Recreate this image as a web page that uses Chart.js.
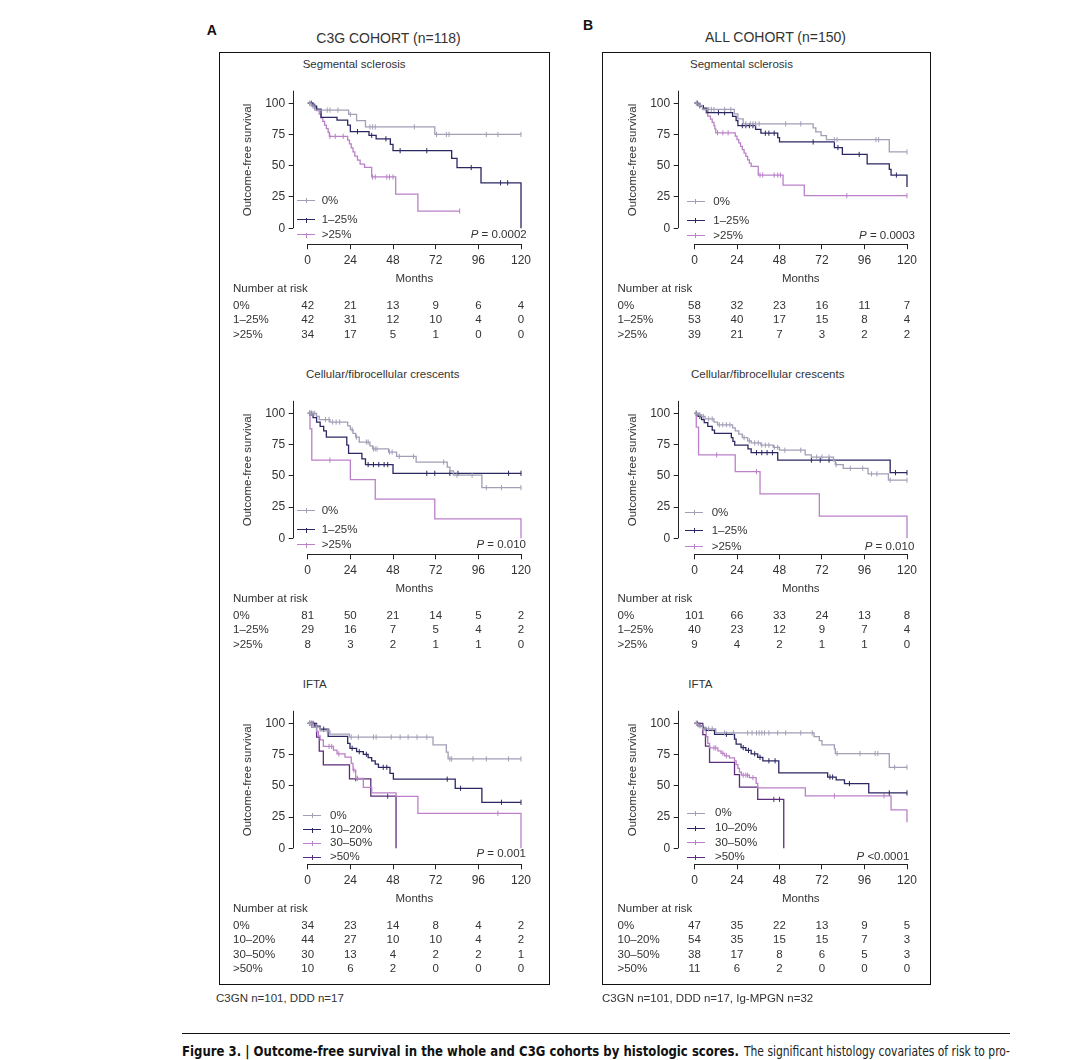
<!DOCTYPE html>
<html>
<head>
<meta charset="utf-8">
<script src="https://cdn.jsdelivr.net/npm/chart.js@4.4.1/dist/chart.umd.min.js"></script>
<style>
  body { margin: 0; background: #fff; }
  #page { position: relative; width: 1080px; height: 1060px; overflow: hidden;
          font-family: "Liberation Sans", Arial, sans-serif; color: #333; }
  .t { position: absolute; white-space: nowrap; font-size: 11px; line-height: 1; }
  canvas { position: absolute; }
  .box { position: absolute; border: 1.7px solid #111; box-sizing: border-box; }
  .ln { position: absolute; height: 0; }
</style>
</head>
<body>
<div id="page"></div>
<script>
const X_TICKS = [0, 24, 48, 72, 96, 120];
const Y_TICKS = [0, 25, 50, 75, 100];
const ssGroups = ['0%', '1–25%', '>25%'];
const ifGroups = ['0%', '10–20%', '30–50%', '>50%'];

// C3G cohort - segmental sclerosis (time in months, survival %, censor times)
const ssA0_t = [0, 2, 4, 23, 27.5, 32.5, 71.5, 120];
const ssA0_s = [100, 97.6, 94.5, 91, 86, 81, 75, 75];
const ssA0_c = [1, 3, 11, 12.5, 17, 24, 35, 36.5, 38, 60, 72.5, 78, 79.5, 100.5, 107, 120];
const ssA1_t = [0, 3, 5, 7.5, 16.5, 22.5, 24, 34.5, 38.5, 46.5, 48, 81, 84, 97.5, 120];
const ssA1_s = [100, 97.6, 95.2, 88.7, 86.5, 82.5, 77.3, 74.2, 71.5, 67, 62, 55.8, 48.5, 36.3, 0];
const ssA1_c = [2, 4, 28, 36, 44, 52, 67, 92, 108.5, 112.5];
const ssA2_t = [0, 3, 5, 6.5, 7.5, 8.5, 9.5, 10.5, 11.5, 12.2, 22.5, 23.5, 24.5, 25.5, 26.5, 28, 29.5, 32, 36, 49.5, 62, 85.5];
const ssA2_s = [100, 97, 94, 91.2, 88.3, 85.4, 82.5, 79.6, 76.6, 73.5, 70.4, 67.4, 64.2, 61, 57.7, 54.5, 51.3, 48.7, 41, 27.3, 13.7, 13.7];
const ssA2_c = [12.5, 15.5, 20, 36.5, 38, 44.5, 46, 48, 85.5];
const ssA_risk = [[42, 21, 13, 9, 6, 4], [42, 31, 12, 10, 4, 0], [34, 17, 5, 1, 0, 0]];

// all cohort - segmental sclerosis
const ssB0_t = [0, 2, 4.5, 22.5, 24.5, 27.5, 67, 68.5, 71.5, 74.5, 110, 120];
const ssB0_s = [100, 98.3, 95, 91.5, 87.5, 83.5, 80.3, 77, 74, 70.8, 61, 61];
const ssB0_c = [1, 3, 8, 9.5, 11, 17, 20.5, 29, 31.5, 33, 34.5, 36.5, 51.5, 60, 79, 80.5, 102.5, 104, 120];
const ssB1_t = [0, 2, 5, 7, 21.5, 23.5, 24.5, 34.5, 37.5, 47, 48, 79, 83.5, 97.5, 110, 111, 120];
const ssB1_s = [100, 98, 96, 92.5, 89.5, 86, 82, 79, 76, 72.5, 69, 64.5, 59, 51.5, 47, 42.5, 33];
const ssB1_c = [1.5, 3, 13.5, 17, 27, 29, 31, 33, 40, 42, 45, 67, 81, 93, 114];
const ssB2_t = [0, 3, 5, 6.5, 7.5, 9, 10, 11, 11.5, 12, 23, 24, 25, 26, 27, 28, 29, 30, 31, 32, 36, 50, 62, 120];
const ssB2_s = [100, 97.4, 94.9, 92.3, 89.7, 87.2, 84.6, 82, 79.5, 76.3, 73.6, 70.9, 68.2, 65.5, 62.8, 60.1, 57.4, 54.7, 52, 49.5, 42.5, 34.5, 26, 26];
const ssB2_c = [13, 16, 19, 37, 38.5, 45, 47, 48.5, 86, 120];
const ssB_risk = [[58, 32, 23, 16, 11, 7], [53, 40, 17, 15, 8, 4], [39, 21, 7, 3, 2, 2]];

// C3G cohort - cellular/fibrocellular crescents
const crA0_t = [0, 5, 6.5, 12.5, 22.5, 24, 25.5, 27, 29, 35, 36.5, 45.5, 50, 61, 78.5, 80, 82, 98, 120];
const crA0_s = [100, 97.5, 95, 93, 90, 87, 84, 81, 77, 74, 71.5, 69, 65.5, 61, 57, 54, 50.5, 40.5, 40.5];
const crA0_c = [1, 2, 3, 4, 10, 12, 14, 16, 18, 25, 27.5, 33, 34, 37, 38, 39, 46, 47.5, 51.5, 59.5, 76.5, 84, 92.5, 100.5, 109, 120];
const crA1_t = [0, 3, 5, 7, 9, 10.5, 22, 23, 30.5, 32.5, 48, 120];
const crA1_s = [100, 96.5, 93, 89.5, 86, 81, 74.5, 68, 63.5, 59, 52, 52];
const crA1_c = [1, 2, 34, 37, 40, 43, 45, 67, 71.5, 80, 84.5, 113, 120];
const crA2_t = [0, 1.3, 2.3, 24, 38, 71.5, 120];
const crA2_s = [100, 87.5, 62.5, 46.9, 31.3, 15.6, 0];
const crA2_c = [12.5];
const crA_risk = [[81, 50, 21, 14, 5, 2], [29, 16, 7, 5, 4, 2], [8, 3, 2, 1, 1, 0]];

// all cohort - cellular/fibrocellular crescents
const crB0_t = [0, 2, 4, 6, 11, 13, 21.5, 23, 25, 27, 30, 32, 37.5, 44.5, 48, 62.5, 66, 78.5, 79.5, 84, 98, 109.5, 120];
const crB0_s = [100, 99, 97.5, 95.5, 93, 90.8, 88.3, 86, 83.3, 80.5, 78, 76.3, 74.5, 72.7, 70.5, 66.8, 65, 62, 59, 56, 51.5, 46.5, 46.5];
const crB0_c = [1, 3, 5, 8, 10, 14, 16, 18, 20, 28, 31, 34, 36, 38, 40, 42, 45, 47, 51, 60, 69, 72, 76, 80, 88, 95, 100, 103, 110.5, 120];
const crB1_t = [0, 2, 4, 5.5, 7.5, 10, 11.3, 20.8, 21.7, 22.7, 30.2, 32, 47, 110.5, 120];
const crB1_s = [100, 97.5, 95, 92.5, 89.5, 86.5, 84, 80.5, 77.5, 74.5, 71.5, 68.5, 62.5, 52.5, 52.5];
const crB1_c = [1, 3, 35, 38, 41, 44, 66, 71, 76, 113.5, 120];
const crB2_t = [0, 1, 2.3, 23, 37, 70.5, 120];
const crB2_s = [100, 88.9, 66.7, 53.3, 35.6, 17.8, 0];
const crB2_c = [12.5, 35];
const crB_risk = [[101, 66, 33, 24, 13, 8], [40, 23, 12, 9, 7, 4], [9, 4, 2, 1, 1, 0]];

// C3G cohort - IFTA
const ifA0_t = [0, 3, 7, 12.5, 23.5, 70.5, 78, 79, 120];
const ifA0_s = [100, 97, 94, 91.3, 89, 82.8, 77, 71.5, 71.5];
const ifA0_c = [1, 2, 5, 11, 12, 24.5, 28.5, 37, 38.5, 47, 52, 56.5, 61.5, 67, 80, 81, 93, 100.5, 113, 120];
const ifA1_t = [0, 4, 7, 11.5, 22.5, 23.8, 27.5, 31.3, 34, 36, 38, 39.8, 46.3, 48.2, 83, 98, 120];
const ifA1_s = [100, 97.7, 95.3, 89.6, 84, 80, 77.3, 75.2, 72.5, 70, 67.3, 64.8, 60, 55.3, 48, 36.8, 36.8];
const ifA1_c = [1, 2, 9, 25, 29, 33, 42.5, 44.5, 78.5, 86, 109, 120];
const ifA2_t = [0, 2.2, 5, 6, 7, 8.8, 14.5, 16.5, 21, 24.5, 25.5, 27, 31.3, 36, 49.7, 62, 120];
const ifA2_s = [100, 96.7, 93.3, 90, 86.7, 81.5, 78.5, 75.5, 73, 68, 62.5, 56, 48.8, 44.3, 41.6, 28, 0];
const ifA2_c = [12, 13.5, 17.5, 26, 28, 107];
const ifA3_t = [0, 5, 6.5, 8.8, 23.5, 35.5, 49.7];
const ifA3_s = [100, 88.9, 77.8, 66.7, 55.6, 41.7, 0];
const ifA3_c = [3, 27, 45];
const ifA_risk = [[34, 23, 14, 8, 4, 2], [44, 27, 10, 10, 4, 2], [30, 13, 4, 2, 2, 1], [10, 6, 2, 0, 0, 0]];

// all cohort - IFTA
const ifB0_t = [0, 2, 4.5, 12, 67.5, 70.5, 72, 79, 79.5, 110, 120];
const ifB0_s = [100, 97.9, 95.6, 92.3, 89.3, 86.2, 82.8, 79.5, 75.8, 64.8, 64.8];
const ifB0_c = [1, 3, 6, 8, 10, 17, 22, 30, 32.5, 35, 36.5, 38, 39.5, 42, 47, 51.5, 60, 66.5, 80.5, 93.5, 102, 103.5, 113, 120];
const ifB1_t = [0, 3, 4.7, 6.6, 11.3, 22.6, 23.5, 26.3, 29, 32, 35.7, 38.6, 47.6, 75.2, 80, 84.7, 98.4, 120];
const ifB1_s = [100, 98, 96.2, 94.3, 91.2, 87.3, 83.4, 80.5, 78.3, 75.6, 72.8, 70, 60.3, 57, 54.8, 51.8, 44.3, 44.3];
const ifB1_c = [1.5, 18, 27.5, 30.5, 34, 37, 42, 45.5, 76.5, 78, 87.5, 110, 120];
const ifB2_t = [0, 2, 4.7, 6.6, 7.5, 8.5, 13.2, 15, 17, 19.7, 22.6, 23.5, 24.5, 25.4, 26.5, 31, 34.8, 35.7, 62.6, 111, 120];
const ifB2_s = [100, 97.4, 94.7, 89.3, 84, 80.3, 78, 76, 74, 72.3, 70, 67, 64, 61, 58.5, 56.5, 52, 48.3, 41.9, 30.7, 20.8];
const ifB2_c = [11, 12, 16, 18, 27.5, 29, 30, 33, 79, 107];
const ifB3_t = [0, 4.7, 6.2, 8.5, 22.6, 25.4, 35.7, 50.4];
const ifB3_s = [100, 90.9, 81.8, 68.8, 58.9, 49, 39.1, 0];
const ifB3_c = [44.8, 48];
const ifB_risk = [[47, 35, 22, 13, 9, 5], [54, 35, 15, 15, 7, 3], [38, 17, 8, 6, 5, 3], [11, 6, 2, 0, 0, 0]];

const COLORS = ['#a29eb6', '#2a2762', '#bb80c8', '#5b2d7a'];

// layout of each panel (pixels)
const colA = { x0: 307.7, span: 213.3, xmin: -8.44, riskX: 233 };
const colB = { x0: 694.5, span: 212.5, xmin: -9.49, riskX: 617.5 };
const rowY = [228.2, 538.3, 848.3];

const panels = [
  { col: colA, y0: rowY[0], title: 'Segmental sclerosis', tx: 302.7, groups: ssGroups,
    curves: [[ssA0_t, ssA0_s, ssA0_c], [ssA1_t, ssA1_s, ssA1_c], [ssA2_t, ssA2_s, ssA2_c]],
    risk: ssA_risk, p: '= 0.0002', px: 526.7, py: 6.8, lx: 297.3, ltx: 321.7, ly: [-27.5, -8.2, 6.8] },
  { col: colB, y0: rowY[0], title: 'Segmental sclerosis', tx: 690, groups: ssGroups,
    curves: [[ssB0_t, ssB0_s, ssB0_c], [ssB1_t, ssB1_s, ssB1_c], [ssB2_t, ssB2_s, ssB2_c]],
    risk: ssB_risk, p: '= 0.0003', px: 915, py: 7.7, lx: 686.7, ltx: 713.3, ly: [-26.6, -7.6, 7.7] },
  { col: colA, y0: rowY[1], title: 'Cellular/fibrocellular crescents', tx: 306, groups: ssGroups,
    curves: [[crA0_t, crA0_s, crA0_c], [crA1_t, crA1_s, crA1_c], [crA2_t, crA2_s, crA2_c]],
    risk: crA_risk, p: '= 0.010', px: 526, py: 6.7, lx: 297.3, ltx: 321.7, ly: [-27.6, -8.3, 6.7] },
  { col: colB, y0: rowY[1], title: 'Cellular/fibrocellular crescents', tx: 691, groups: ssGroups,
    curves: [[crB0_t, crB0_s, crB0_c], [crB1_t, crB1_s, crB1_c], [crB2_t, crB2_s, crB2_c]],
    risk: crB_risk, p: '= 0.010', px: 914.3, py: 8.4, lx: 685, ltx: 711.7, ly: [-25.6, -7.6, 8.4] },
  { col: colA, y0: rowY[2], title: 'IFTA', tx: 302.7, groups: ifGroups,
    curves: [[ifA0_t, ifA0_s, ifA0_c], [ifA1_t, ifA1_s, ifA1_c], [ifA2_t, ifA2_s, ifA2_c], [ifA3_t, ifA3_s, ifA3_c]],
    risk: ifA_risk, p: '= 0.001', px: 526, py: 6, lx: 303.3, ltx: 330, ly: [-32.6, -18.3, -5, 9] },
  { col: colB, y0: rowY[2], title: 'IFTA', tx: 688.3, groups: ifGroups,
    curves: [[ifB0_t, ifB0_s, ifB0_c], [ifB1_t, ifB1_s, ifB1_c], [ifB2_t, ifB2_s, ifB2_c], [ifB3_t, ifB3_s, ifB3_c]],
    risk: ifB_risk, p: '<0.0001', px: 909.3, py: 8.4, lx: 686.7, ltx: 715, ly: [-35, -20, -5.6, 9] }
];

const page = document.getElementById('page');

function txt(s, x, y, o = {}) {
  const d = document.createElement('div');
  d.className = 't';
  if (o.html) d.innerHTML = s; else d.textContent = s;
  d.style.left = x + 'px';
  d.style.top = y + 'px';
  if (o.size) d.style.fontSize = o.size + 'px';
  if (o.weight) d.style.fontWeight = o.weight;
  if (o.color) d.style.color = o.color;
  if (o.font) d.style.fontFamily = o.font;
  const tx = o.align === 'center' ? '-50%' : o.align === 'right' ? '-100%' : '0';
  d.style.transform = `translate(${tx}, -50%)` + (o.rot ? ' rotate(-90deg)' : '');
  page.appendChild(d);
  return d;
}

function hline(x, y, w, color, width) {
  const d = document.createElement('div');
  d.className = 'ln';
  d.style.cssText += `left:${x}px;top:${y - width / 2}px;width:${w}px;border-top:${width}px solid ${color};`;
  page.appendChild(d);
}

function vline(x, y, h, color) {
  const d = document.createElement('div');
  d.style.cssText = `position:absolute;left:${x - 0.5}px;top:${y - h / 2}px;height:${h}px;border-left:1px solid ${color};`;
  page.appendChild(d);
}

function survAt(ts, ss, c) {
  let v = ss[0];
  for (let i = 0; i < ts.length; i++) if (ts[i] <= c) v = ss[i];
  return v;
}

// axis lines only cover 0-120 months and 0-110 %
const axisLines = {
  id: 'axisLines',
  afterDraw(chart) {
    const { ctx, chartArea, scales: { x, y } } = chart;
    ctx.save();
    ctx.strokeStyle = '#222';
    ctx.lineWidth = 1;
    ctx.beginPath();
    const by = Math.round(chartArea.bottom) + 0.5;
    const lx = Math.round(chartArea.left) + 0.5;
    ctx.moveTo(x.getPixelForValue(0), by);
    ctx.lineTo(x.getPixelForValue(120), by);
    ctx.moveTo(lx, y.getPixelForValue(0));
    ctx.lineTo(lx, y.getPixelForValue(110));
    ctx.stroke();
    ctx.restore();
  }
};

Chart.defaults.font.family = '"Liberation Sans", Arial, sans-serif';
Chart.defaults.font.size = 11;
Chart.defaults.color = '#333';

function kmChart(p) {
  const ppm = p.col.span / 120;
  const PY = 1.25;
  const YMIN = -12.8, YMAX = 110;
  const aL = p.col.x0 + p.col.xmin * ppm;
  const aR = p.col.x0 + p.col.span;
  const aT = p.y0 - YMAX * PY;
  const aB = p.y0 - YMIN * PY;
  const cL = Math.floor(aL) - 60, cT = Math.floor(aT) - 8;
  const W = Math.ceil(aR - cL) + 16, H = Math.ceil(aB - cT) + 32;

  const cv = document.createElement('canvas');
  cv.width = W; cv.height = H;
  cv.style.left = cL + 'px'; cv.style.top = cT + 'px';
  cv.style.width = W + 'px'; cv.style.height = H + 'px';
  page.appendChild(cv);

  const datasets = [];
  p.curves.forEach(([ts, ss, cs], i) => {
    datasets.push({
      data: ts.map((t, k) => ({ x: t, y: ss[k] })),
      stepped: true, borderColor: COLORS[i], borderWidth: 1.3,
      pointRadius: 0, fill: false, clip: false
    });
    datasets.push({
      data: cs.map(c => ({ x: c, y: survAt(ts, ss, c) })),
      showLine: false, pointStyle: 'line', rotation: 90, pointRadius: 2.6,
      borderColor: COLORS[i], borderWidth: 1, clip: false
    });
  });

  new Chart(cv, {
    type: 'line',
    data: { datasets },
    options: {
      responsive: false, animation: false, events: [],
      devicePixelRatio: 1,
      layout: { padding: { left: aL - 60 - cL, top: aT - cT, right: W - (aR - cL), bottom: H - (aB - cT) - 30 } },
      plugins: { legend: { display: false }, tooltip: { enabled: false } },
      scales: {
        x: {
          type: 'linear', min: p.col.xmin, max: 120,
          afterBuildTicks: s => { s.ticks = X_TICKS.map(v => ({ value: v })); },
          afterFit: s => { s.height = 30; s.paddingLeft = 0; s.paddingRight = 0; },
          ticks: { autoSkip: false, maxRotation: 0, padding: 4, font: { size: 12 } },
          grid: { drawOnChartArea: false, drawTicks: true, tickLength: 5, color: '#222' },
          border: { display: false }
        },
        y: {
          type: 'linear', min: YMIN, max: YMAX,
          afterBuildTicks: s => { s.ticks = Y_TICKS.map(v => ({ value: v })); },
          afterFit: s => { s.width = 60; s.paddingTop = 0; s.paddingBottom = 0; },
          ticks: { padding: 3.5, font: { size: 12 } },
          grid: { drawOnChartArea: false, drawTicks: true, tickLength: 4, color: '#222' },
          border: { display: false }
        }
      }
    },
    plugins: [axisLines]
  });

  // texts around the plot
  const xAt = t => p.col.x0 + t * ppm;
  txt(p.title, p.tx, p.y0 - 163, { size: 11.5 });
  txt('Outcome-free survival', aL - 44.4, p.y0 - 68.5, { align: 'center', rot: true, size: 11.5 });
  txt('Months', xAt(60), p.y0 + 51, { align: 'center', size: 11.5 });
  txt('<i>P</i> ' + p.p, p.px, p.y0 + p.py, { align: 'right', html: true, size: 11.5 });

  p.groups.forEach((g, i) => {
    const y = p.y0 + p.ly[i];
    hline(p.lx, y, 18, COLORS[i], 1.3);
    vline(p.lx + 9, y, 5, COLORS[i]);
    txt(g, p.ltx, y, { size: 11.5 });
  });

  const rowOff = [77.5, 91.8, 106.3, 121];
  txt('Number at risk', p.col.riskX, p.y0 + 61, { size: 11.5 });
  p.risk.forEach((row, i) => {
    const y = p.y0 + rowOff[i];
    txt(p.groups[i], p.col.riskX, y, { size: 11.5 });
    row.forEach((n, k) => txt(String(n), xAt(X_TICKS[k]), y, { align: 'center', size: 11.5 }));
  });
}

// frames and headings
function box(l, t, r, b) {
  const d = document.createElement('div');
  d.className = 'box';
  d.style.left = l + 'px'; d.style.top = t + 'px';
  d.style.width = (r - l) + 'px'; d.style.height = (b - t) + 'px';
  page.appendChild(d);
}
box(218.5, 52, 549.5, 984.5);
box(602, 51.5, 931, 984.5);

txt('A', 211.7, 30, { align: 'center', size: 14, weight: 'bold', color: '#111' });
txt('C3G COHORT (n=118)', 388.5, 38.3, { align: 'center', size: 14 });
txt('B', 588, 25, { align: 'center', size: 14, weight: 'bold', color: '#111' });
txt('ALL COHORT (n=150)', 775.5, 36.7, { align: 'center', size: 14 });

panels.forEach(kmChart);

txt('C3GN n=101, DDD n=17', 216, 999.3, { size: 11.5 });
txt('C3GN n=101, DDD n=17, Ig-MPGN n=32', 602, 999.3, { size: 11.5 });

// caption
hline(182, 1034, 828, '#111', 1.6);
const capFont = '"Liberation Sans Narrow", "DejaVu Sans Condensed", "Liberation Sans", sans-serif';
const cap1 = txt('Figure 3. | Outcome-free survival in the whole and C3G cohorts by histologic scores.', 182, 1050.7,
  { size: 14, weight: 'bold', color: '#111', font: capFont });
const cap2 = txt('The significant histology covariates of risk to pro-', 744, 1050.7,
  { size: 14, color: '#222', font: capFont });
function fitWidth(el, w) {
  const cur = el.getBoundingClientRect().width;
  el.style.transformOrigin = '0 50%';
  el.style.transform += ` scaleX(${w / cur})`;
}
fitWidth(cap1, 557);
fitWidth(cap2, 266);
</script>
</body>
</html>
